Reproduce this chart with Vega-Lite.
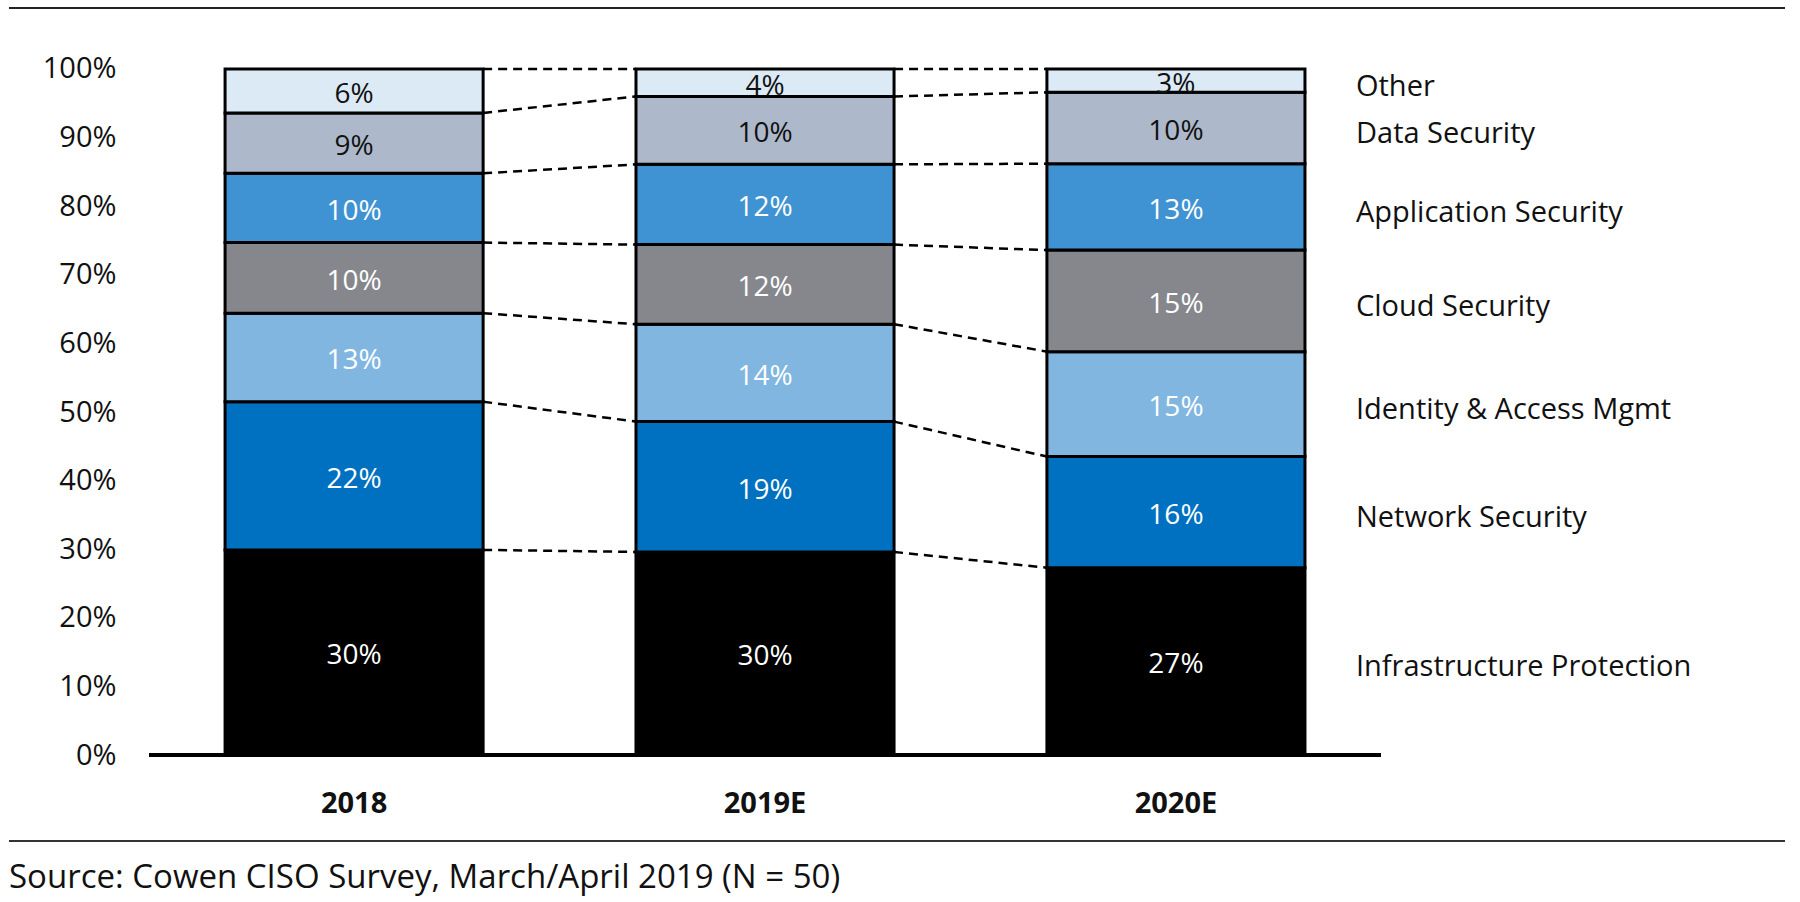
{
  "$schema": "https://vega.github.io/schema/vega-lite/v6.json",
  "width": 1776,
  "height": 833,
  "autosize": {"type": "none"},
  "padding": {"left": 9, "top": 8, "right": 15, "bottom": 61},
  "background": "white",
  "config": {"view": {"stroke": null}},
  "title": {"text": "Source: Cowen CISO Survey, March/April 2019 (N = 50)", "orient": "bottom", "anchor": "start", "frame": "group", "offset": 20, "font": "Open Sans", "fontSize": 33, "fontWeight": "normal", "color": "#111111"},
  "data": {"values": [
    {"year": "2018", "category": "Infrastructure Protection", "k": 1, "share": 0.299},
    {"year": "2018", "category": "Network Security", "k": 2, "share": 0.216},
    {"year": "2018", "category": "Identity & Access Mgmt", "k": 3, "share": 0.129},
    {"year": "2018", "category": "Cloud Security", "k": 4, "share": 0.103},
    {"year": "2018", "category": "Application Security", "k": 5, "share": 0.101},
    {"year": "2018", "category": "Data Security", "k": 6, "share": 0.088},
    {"year": "2018", "category": "Other", "k": 7, "share": 0.064},
    {"year": "2019E", "category": "Infrastructure Protection", "k": 1, "share": 0.296},
    {"year": "2019E", "category": "Network Security", "k": 2, "share": 0.190},
    {"year": "2019E", "category": "Identity & Access Mgmt", "k": 3, "share": 0.142},
    {"year": "2019E", "category": "Cloud Security", "k": 4, "share": 0.116},
    {"year": "2019E", "category": "Application Security", "k": 5, "share": 0.117},
    {"year": "2019E", "category": "Data Security", "k": 6, "share": 0.099},
    {"year": "2019E", "category": "Other", "k": 7, "share": 0.040},
    {"year": "2020E", "category": "Infrastructure Protection", "k": 1, "share": 0.273},
    {"year": "2020E", "category": "Network Security", "k": 2, "share": 0.162},
    {"year": "2020E", "category": "Identity & Access Mgmt", "k": 3, "share": 0.153},
    {"year": "2020E", "category": "Cloud Security", "k": 4, "share": 0.148},
    {"year": "2020E", "category": "Application Security", "k": 5, "share": 0.126},
    {"year": "2020E", "category": "Data Security", "k": 6, "share": 0.104},
    {"year": "2020E", "category": "Other", "k": 7, "share": 0.034}
  ]},
  "layer": [
    {
      "transform": [
        {"stack": "share", "groupby": ["year"], "sort": [{"field": "k", "order": "ascending"}], "as": ["v0", "v1"]},
        {"window": [{"op": "lead", "field": "v1", "as": "n1"}, {"op": "lead", "field": "year", "as": "nyear"}], "groupby": ["category"], "sort": [{"field": "year", "order": "ascending"}]},
        {"filter": "datum.nyear != null"}
      ],
      "mark": {"type": "rule", "strokeDash": [9, 6], "strokeWidth": 2.5, "color": "#000000"},
      "encoding": {
        "x": {"field": "year", "type": "nominal", "bandPosition": 1},
        "x2": {"field": "nyear", "bandPosition": 0},
        "y": {"field": "v1", "type": "quantitative"},
        "y2": {"field": "n1"}
      }
    },
    {
      "mark": {"type": "bar", "stroke": "#000000", "strokeWidth": 3},
      "encoding": {
        "x": {
          "field": "year", "type": "nominal",
          "scale": {"domain": ["2018", "2019E", "2020E"], "paddingInner": 0.372, "paddingOuter": 0.847, "align": 0.3104},
          "axis": {"orient": "bottom", "offset": -86, "domain": false, "ticks": false, "labelPadding": 48, "labelAlign": "center", "labelFont": "Open Sans", "labelFontSize": 29, "labelFontWeight": "bold", "labelAngle": 0, "labelColor": "#111111", "title": null}
        },
        "y": {
          "field": "share", "type": "quantitative", "stack": "zero",
          "scale": {"domain": [-0.12536, 1.08892], "nice": false, "zero": false},
          "axis": {"orient": "left", "values": [0, 0.1, 0.2, 0.3, 0.4, 0.5, 0.6, 0.7, 0.8, 0.9, 1], "format": ".0%", "title": null, "domain": false, "ticks": false, "tickSize": 0, "grid": false, "labelPadding": 0, "offset": -107, "labelFont": "Open Sans", "labelFontSize": 29, "labelColor": "#111111"}
        },
        "color": {
          "field": "category", "type": "nominal",
          "scale": {
            "domain": ["Infrastructure Protection", "Network Security", "Identity & Access Mgmt", "Cloud Security", "Application Security", "Data Security", "Other"],
            "range": ["#000000", "#0070C0", "#80B6DF", "#86878C", "#3F93D3", "#ADB9CA", "#DCEAF6"]
          },
          "legend": null
        },
        "order": {"field": "k", "type": "quantitative"}
      }
    },
    {
      "mark": {"type": "text", "font": "Open Sans", "fontSize": 28, "align": "center", "baseline": "middle", "dy": 4},
      "encoding": {
        "x": {"field": "year", "type": "nominal"},
        "y": {"field": "share", "type": "quantitative", "stack": "zero", "bandPosition": 0.5},
        "detail": {"field": "category"},
        "order": {"field": "k", "type": "quantitative"},
        "text": {"field": "share", "type": "quantitative", "format": ".0%"},
        "color": {"condition": {"test": "datum.category === 'Other' || datum.category === 'Data Security'", "value": "#111111"}, "value": "#ffffff"}
      }
    },
    {
      "transform": [{"filter": "datum.year === '2020E'"}],
      "mark": {"type": "text", "font": "Open Sans", "fontSize": 29, "align": "left", "baseline": "middle", "dx": 51, "dy": 6, "color": "#111111"},
      "encoding": {
        "x": {"field": "year", "type": "nominal", "bandPosition": 1},
        "y": {"field": "share", "type": "quantitative", "stack": "zero", "bandPosition": 0.5},
        "detail": {"field": "category"},
        "order": {"field": "k", "type": "quantitative"},
        "text": {"field": "category"}
      }
    },
    {
      "mark": {"type": "rule", "strokeWidth": 3, "color": "#000000"},
      "encoding": {
        "x": {"datum": "2018", "bandPosition": -0.2946},
        "x2": {"datum": "2020E", "bandPosition": 1.2946},
        "y": {"datum": 0}
      }
    },
    {
      "mark": {"type": "rule", "strokeWidth": 2, "color": "#222222"},
      "encoding": {"y": {"datum": 1.08892}}
    },
    {
      "mark": {"type": "rule", "strokeWidth": 2, "color": "#333333"},
      "encoding": {"y": {"datum": -0.12536}}
    }
  ]
}
